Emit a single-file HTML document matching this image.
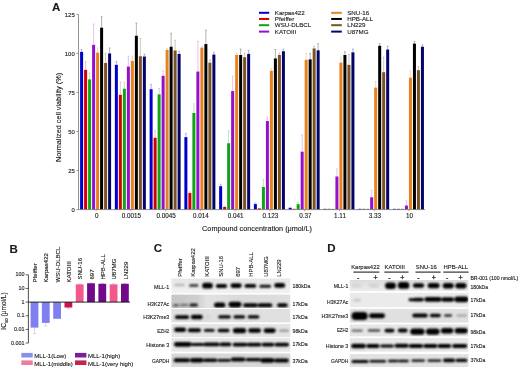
<!DOCTYPE html>
<html><head><meta charset="utf-8"><style>
html,body{margin:0;padding:0;background:#fff;}
body{width:520px;height:368px;overflow:hidden;}
svg{display:block;}
text{font-family:'Liberation Sans', Arial, sans-serif;fill:#1a1a1a;stroke:#1a1a1a;stroke-width:0.12px;}
</style></head><body>
<svg width="520" height="368" viewBox="0 0 520 368">
<rect width="520" height="368" fill="#fff"/>
<text x="52" y="11.4" font-size="11.5" font-weight="bold">A</text>
<line x1="81.60" y1="49.54" x2="81.60" y2="51.88" stroke="#9090f0" stroke-width="0.7"/>
<line x1="80.70" y1="49.54" x2="82.50" y2="49.54" stroke="#9090f0" stroke-width="0.7"/>
<rect x="80.10" y="51.88" width="3.0" height="157.72" fill="#0000cc"/>
<line x1="85.60" y1="61.56" x2="85.60" y2="69.84" stroke="#f0a0a0" stroke-width="0.7"/>
<line x1="84.70" y1="61.56" x2="86.50" y2="61.56" stroke="#f0a0a0" stroke-width="0.7"/>
<rect x="84.10" y="69.84" width="3.0" height="139.76" fill="#d40000"/>
<line x1="89.60" y1="72.96" x2="89.60" y2="79.36" stroke="#a0d8a0" stroke-width="0.7"/>
<line x1="88.70" y1="72.96" x2="90.50" y2="72.96" stroke="#a0d8a0" stroke-width="0.7"/>
<rect x="88.10" y="79.36" width="3.0" height="130.24" fill="#10a414"/>
<line x1="93.60" y1="24.08" x2="93.60" y2="44.85" stroke="#e0a8e8" stroke-width="0.7"/>
<line x1="92.70" y1="24.08" x2="94.50" y2="24.08" stroke="#e0a8e8" stroke-width="0.7"/>
<rect x="92.10" y="44.85" width="3.0" height="164.75" fill="#9410cc"/>
<line x1="97.60" y1="47.97" x2="97.60" y2="52.66" stroke="#f4c898" stroke-width="0.7"/>
<line x1="96.70" y1="47.97" x2="98.50" y2="47.97" stroke="#f4c898" stroke-width="0.7"/>
<rect x="96.10" y="52.66" width="3.0" height="156.94" fill="#e8821e"/>
<line x1="101.60" y1="16.74" x2="101.60" y2="27.67" stroke="#909090" stroke-width="0.7"/>
<line x1="100.70" y1="16.74" x2="102.50" y2="16.74" stroke="#909090" stroke-width="0.7"/>
<rect x="100.10" y="27.67" width="3.0" height="181.93" fill="#000000"/>
<line x1="105.60" y1="53.44" x2="105.60" y2="62.97" stroke="#c8b090" stroke-width="0.7"/>
<line x1="104.70" y1="53.44" x2="106.50" y2="53.44" stroke="#c8b090" stroke-width="0.7"/>
<rect x="104.10" y="62.97" width="3.0" height="146.63" fill="#7a5224"/>
<line x1="109.60" y1="47.97" x2="109.60" y2="53.44" stroke="#9090c0" stroke-width="0.7"/>
<line x1="108.70" y1="47.97" x2="110.50" y2="47.97" stroke="#9090c0" stroke-width="0.7"/>
<rect x="108.10" y="53.44" width="3.0" height="156.16" fill="#04046a"/>
<line x1="96.10" y1="209.6" x2="96.10" y2="211.2" stroke="#777" stroke-width="0.6"/>
<text x="96.70" y="218.4" font-size="6.3" text-anchor="middle">0</text>
<line x1="116.36" y1="61.56" x2="116.36" y2="64.84" stroke="#9090f0" stroke-width="0.7"/>
<line x1="115.46" y1="61.56" x2="117.26" y2="61.56" stroke="#9090f0" stroke-width="0.7"/>
<rect x="114.86" y="64.84" width="3.0" height="144.76" fill="#0000cc"/>
<line x1="120.36" y1="82.02" x2="120.36" y2="94.82" stroke="#f0a0a0" stroke-width="0.7"/>
<line x1="119.46" y1="82.02" x2="121.26" y2="82.02" stroke="#f0a0a0" stroke-width="0.7"/>
<rect x="118.86" y="94.82" width="3.0" height="114.78" fill="#d40000"/>
<line x1="124.36" y1="82.02" x2="124.36" y2="88.73" stroke="#a0d8a0" stroke-width="0.7"/>
<line x1="123.46" y1="82.02" x2="125.26" y2="82.02" stroke="#a0d8a0" stroke-width="0.7"/>
<rect x="122.86" y="88.73" width="3.0" height="120.87" fill="#10a414"/>
<line x1="128.36" y1="56.25" x2="128.36" y2="66.56" stroke="#e0a8e8" stroke-width="0.7"/>
<line x1="127.46" y1="56.25" x2="129.26" y2="56.25" stroke="#e0a8e8" stroke-width="0.7"/>
<rect x="126.86" y="66.56" width="3.0" height="143.04" fill="#9410cc"/>
<line x1="132.36" y1="56.25" x2="132.36" y2="60.94" stroke="#f4c898" stroke-width="0.7"/>
<line x1="131.46" y1="56.25" x2="133.26" y2="56.25" stroke="#f4c898" stroke-width="0.7"/>
<rect x="130.86" y="60.94" width="3.0" height="148.66" fill="#e8821e"/>
<line x1="136.36" y1="22.99" x2="136.36" y2="35.79" stroke="#909090" stroke-width="0.7"/>
<line x1="135.46" y1="22.99" x2="137.26" y2="22.99" stroke="#909090" stroke-width="0.7"/>
<rect x="134.86" y="35.79" width="3.0" height="173.81" fill="#000000"/>
<line x1="140.36" y1="38.45" x2="140.36" y2="56.25" stroke="#c8b090" stroke-width="0.7"/>
<line x1="139.46" y1="38.45" x2="141.26" y2="38.45" stroke="#c8b090" stroke-width="0.7"/>
<rect x="138.86" y="56.25" width="3.0" height="153.35" fill="#7a5224"/>
<line x1="144.36" y1="54.22" x2="144.36" y2="56.56" stroke="#9090c0" stroke-width="0.7"/>
<line x1="143.46" y1="54.22" x2="145.26" y2="54.22" stroke="#9090c0" stroke-width="0.7"/>
<rect x="142.86" y="56.56" width="3.0" height="153.04" fill="#04046a"/>
<line x1="130.86" y1="209.6" x2="130.86" y2="211.2" stroke="#777" stroke-width="0.6"/>
<text x="131.46" y="218.4" font-size="6.3" text-anchor="middle">0.0015</text>
<line x1="151.12" y1="84.36" x2="151.12" y2="89.20" stroke="#9090f0" stroke-width="0.7"/>
<line x1="150.22" y1="84.36" x2="152.02" y2="84.36" stroke="#9090f0" stroke-width="0.7"/>
<rect x="149.62" y="89.20" width="3.0" height="120.40" fill="#0000cc"/>
<line x1="155.12" y1="130.74" x2="155.12" y2="137.77" stroke="#f0a0a0" stroke-width="0.7"/>
<line x1="154.22" y1="130.74" x2="156.02" y2="130.74" stroke="#f0a0a0" stroke-width="0.7"/>
<rect x="153.62" y="137.77" width="3.0" height="71.83" fill="#d40000"/>
<line x1="159.12" y1="88.42" x2="159.12" y2="94.35" stroke="#a0d8a0" stroke-width="0.7"/>
<line x1="158.22" y1="88.42" x2="160.02" y2="88.42" stroke="#a0d8a0" stroke-width="0.7"/>
<rect x="157.62" y="94.35" width="3.0" height="115.25" fill="#10a414"/>
<line x1="163.12" y1="70.77" x2="163.12" y2="75.77" stroke="#e0a8e8" stroke-width="0.7"/>
<line x1="162.22" y1="70.77" x2="164.02" y2="70.77" stroke="#e0a8e8" stroke-width="0.7"/>
<rect x="161.62" y="75.77" width="3.0" height="133.83" fill="#9410cc"/>
<line x1="167.12" y1="48.44" x2="167.12" y2="49.85" stroke="#f4c898" stroke-width="0.7"/>
<line x1="166.22" y1="48.44" x2="168.02" y2="48.44" stroke="#f4c898" stroke-width="0.7"/>
<rect x="165.62" y="49.85" width="3.0" height="159.75" fill="#e8821e"/>
<line x1="171.12" y1="33.30" x2="171.12" y2="46.73" stroke="#909090" stroke-width="0.7"/>
<line x1="170.22" y1="33.30" x2="172.02" y2="33.30" stroke="#909090" stroke-width="0.7"/>
<rect x="169.62" y="46.73" width="3.0" height="162.87" fill="#000000"/>
<line x1="175.12" y1="40.32" x2="175.12" y2="50.47" stroke="#c8b090" stroke-width="0.7"/>
<line x1="174.22" y1="40.32" x2="176.02" y2="40.32" stroke="#c8b090" stroke-width="0.7"/>
<rect x="173.62" y="50.47" width="3.0" height="159.13" fill="#7a5224"/>
<line x1="179.12" y1="51.25" x2="179.12" y2="53.91" stroke="#9090c0" stroke-width="0.7"/>
<line x1="178.22" y1="51.25" x2="180.02" y2="51.25" stroke="#9090c0" stroke-width="0.7"/>
<rect x="177.62" y="53.91" width="3.0" height="155.69" fill="#04046a"/>
<line x1="165.62" y1="209.6" x2="165.62" y2="211.2" stroke="#777" stroke-width="0.6"/>
<text x="166.22" y="218.4" font-size="6.3" text-anchor="middle">0.0045</text>
<line x1="185.88" y1="133.55" x2="185.88" y2="137.14" stroke="#9090f0" stroke-width="0.7"/>
<line x1="184.98" y1="133.55" x2="186.78" y2="133.55" stroke="#9090f0" stroke-width="0.7"/>
<rect x="184.38" y="137.14" width="3.0" height="72.46" fill="#0000cc"/>
<line x1="189.88" y1="191.80" x2="189.88" y2="193.05" stroke="#f0a0a0" stroke-width="0.7"/>
<line x1="188.98" y1="191.80" x2="190.78" y2="191.80" stroke="#f0a0a0" stroke-width="0.7"/>
<rect x="188.38" y="193.05" width="3.0" height="16.55" fill="#d40000"/>
<line x1="193.88" y1="103.88" x2="193.88" y2="112.94" stroke="#a0d8a0" stroke-width="0.7"/>
<line x1="192.98" y1="103.88" x2="194.78" y2="103.88" stroke="#a0d8a0" stroke-width="0.7"/>
<rect x="192.38" y="112.94" width="3.0" height="96.66" fill="#10a414"/>
<line x1="197.88" y1="41.42" x2="197.88" y2="71.55" stroke="#e0a8e8" stroke-width="0.7"/>
<line x1="196.98" y1="41.42" x2="198.78" y2="41.42" stroke="#e0a8e8" stroke-width="0.7"/>
<rect x="196.38" y="71.55" width="3.0" height="138.05" fill="#9410cc"/>
<line x1="201.88" y1="46.41" x2="201.88" y2="47.66" stroke="#f4c898" stroke-width="0.7"/>
<line x1="200.98" y1="46.41" x2="202.78" y2="46.41" stroke="#f4c898" stroke-width="0.7"/>
<rect x="200.38" y="47.66" width="3.0" height="161.94" fill="#e8821e"/>
<line x1="205.88" y1="30.02" x2="205.88" y2="44.07" stroke="#909090" stroke-width="0.7"/>
<line x1="204.98" y1="30.02" x2="206.78" y2="30.02" stroke="#909090" stroke-width="0.7"/>
<rect x="204.38" y="44.07" width="3.0" height="165.53" fill="#000000"/>
<line x1="209.88" y1="59.84" x2="209.88" y2="62.65" stroke="#c8b090" stroke-width="0.7"/>
<line x1="208.98" y1="59.84" x2="210.78" y2="59.84" stroke="#c8b090" stroke-width="0.7"/>
<rect x="208.38" y="62.65" width="3.0" height="146.95" fill="#7a5224"/>
<line x1="213.88" y1="52.35" x2="213.88" y2="54.53" stroke="#9090c0" stroke-width="0.7"/>
<line x1="212.98" y1="52.35" x2="214.78" y2="52.35" stroke="#9090c0" stroke-width="0.7"/>
<rect x="212.38" y="54.53" width="3.0" height="155.07" fill="#04046a"/>
<line x1="200.38" y1="209.6" x2="200.38" y2="211.2" stroke="#777" stroke-width="0.6"/>
<text x="200.98" y="218.4" font-size="6.3" text-anchor="middle">0.014</text>
<line x1="220.64" y1="184.30" x2="220.64" y2="186.18" stroke="#9090f0" stroke-width="0.7"/>
<line x1="219.74" y1="184.30" x2="221.54" y2="184.30" stroke="#9090f0" stroke-width="0.7"/>
<rect x="219.14" y="186.18" width="3.0" height="23.42" fill="#0000cc"/>
<line x1="224.64" y1="206.16" x2="224.64" y2="206.95" stroke="#f0a0a0" stroke-width="0.7"/>
<line x1="223.74" y1="206.16" x2="225.54" y2="206.16" stroke="#f0a0a0" stroke-width="0.7"/>
<rect x="223.14" y="206.95" width="3.0" height="2.65" fill="#d40000"/>
<line x1="228.64" y1="130.74" x2="228.64" y2="143.23" stroke="#a0d8a0" stroke-width="0.7"/>
<line x1="227.74" y1="130.74" x2="229.54" y2="130.74" stroke="#a0d8a0" stroke-width="0.7"/>
<rect x="227.14" y="143.23" width="3.0" height="66.37" fill="#10a414"/>
<line x1="232.64" y1="76.24" x2="232.64" y2="91.07" stroke="#e0a8e8" stroke-width="0.7"/>
<line x1="231.74" y1="76.24" x2="233.54" y2="76.24" stroke="#e0a8e8" stroke-width="0.7"/>
<rect x="231.14" y="91.07" width="3.0" height="118.53" fill="#9410cc"/>
<line x1="236.64" y1="53.44" x2="236.64" y2="55.00" stroke="#f4c898" stroke-width="0.7"/>
<line x1="235.74" y1="53.44" x2="237.54" y2="53.44" stroke="#f4c898" stroke-width="0.7"/>
<rect x="235.14" y="55.00" width="3.0" height="154.60" fill="#e8821e"/>
<line x1="240.64" y1="49.07" x2="240.64" y2="55.00" stroke="#909090" stroke-width="0.7"/>
<line x1="239.74" y1="49.07" x2="241.54" y2="49.07" stroke="#909090" stroke-width="0.7"/>
<rect x="239.14" y="55.00" width="3.0" height="154.60" fill="#000000"/>
<line x1="244.64" y1="53.13" x2="244.64" y2="57.19" stroke="#c8b090" stroke-width="0.7"/>
<line x1="243.74" y1="53.13" x2="245.54" y2="53.13" stroke="#c8b090" stroke-width="0.7"/>
<rect x="243.14" y="57.19" width="3.0" height="152.41" fill="#7a5224"/>
<line x1="248.64" y1="50.32" x2="248.64" y2="53.91" stroke="#9090c0" stroke-width="0.7"/>
<line x1="247.74" y1="50.32" x2="249.54" y2="50.32" stroke="#9090c0" stroke-width="0.7"/>
<rect x="247.14" y="53.91" width="3.0" height="155.69" fill="#04046a"/>
<line x1="235.14" y1="209.6" x2="235.14" y2="211.2" stroke="#777" stroke-width="0.6"/>
<text x="235.74" y="218.4" font-size="6.3" text-anchor="middle">0.041</text>
<line x1="255.40" y1="203.04" x2="255.40" y2="204.13" stroke="#9090f0" stroke-width="0.7"/>
<line x1="254.50" y1="203.04" x2="256.30" y2="203.04" stroke="#9090f0" stroke-width="0.7"/>
<rect x="253.90" y="204.13" width="3.0" height="5.47" fill="#0000cc"/>
<rect x="257.90" y="208.35" width="3.0" height="1.25" fill="#d40000"/>
<line x1="263.40" y1="179.30" x2="263.40" y2="186.96" stroke="#a0d8a0" stroke-width="0.7"/>
<line x1="262.50" y1="179.30" x2="264.30" y2="179.30" stroke="#a0d8a0" stroke-width="0.7"/>
<rect x="261.90" y="186.96" width="3.0" height="22.64" fill="#10a414"/>
<line x1="267.40" y1="117.00" x2="267.40" y2="121.06" stroke="#e0a8e8" stroke-width="0.7"/>
<line x1="266.50" y1="117.00" x2="268.30" y2="117.00" stroke="#e0a8e8" stroke-width="0.7"/>
<rect x="265.90" y="121.06" width="3.0" height="88.54" fill="#9410cc"/>
<line x1="271.40" y1="68.59" x2="271.40" y2="70.77" stroke="#f4c898" stroke-width="0.7"/>
<line x1="270.50" y1="68.59" x2="272.30" y2="68.59" stroke="#f4c898" stroke-width="0.7"/>
<rect x="269.90" y="70.77" width="3.0" height="138.83" fill="#e8821e"/>
<line x1="275.40" y1="49.54" x2="275.40" y2="58.44" stroke="#909090" stroke-width="0.7"/>
<line x1="274.50" y1="49.54" x2="276.30" y2="49.54" stroke="#909090" stroke-width="0.7"/>
<rect x="273.90" y="58.44" width="3.0" height="151.16" fill="#000000"/>
<line x1="279.40" y1="53.13" x2="279.40" y2="55.00" stroke="#c8b090" stroke-width="0.7"/>
<line x1="278.50" y1="53.13" x2="280.30" y2="53.13" stroke="#c8b090" stroke-width="0.7"/>
<rect x="277.90" y="55.00" width="3.0" height="154.60" fill="#7a5224"/>
<line x1="283.40" y1="49.07" x2="283.40" y2="51.25" stroke="#9090c0" stroke-width="0.7"/>
<line x1="282.50" y1="49.07" x2="284.30" y2="49.07" stroke="#9090c0" stroke-width="0.7"/>
<rect x="281.90" y="51.25" width="3.0" height="158.35" fill="#04046a"/>
<line x1="269.90" y1="209.6" x2="269.90" y2="211.2" stroke="#777" stroke-width="0.6"/>
<text x="270.50" y="218.4" font-size="6.3" text-anchor="middle">0.123</text>
<rect x="288.66" y="207.73" width="3.0" height="1.87" fill="#0000cc"/>
<rect x="292.66" y="208.82" width="3.0" height="0.78" fill="#d40000"/>
<line x1="298.16" y1="202.26" x2="298.16" y2="204.13" stroke="#a0d8a0" stroke-width="0.7"/>
<line x1="297.26" y1="202.26" x2="299.06" y2="202.26" stroke="#a0d8a0" stroke-width="0.7"/>
<rect x="296.66" y="204.13" width="3.0" height="5.47" fill="#10a414"/>
<line x1="302.16" y1="134.96" x2="302.16" y2="151.66" stroke="#e0a8e8" stroke-width="0.7"/>
<line x1="301.26" y1="134.96" x2="303.06" y2="134.96" stroke="#e0a8e8" stroke-width="0.7"/>
<rect x="300.66" y="151.66" width="3.0" height="57.94" fill="#9410cc"/>
<line x1="306.16" y1="53.13" x2="306.16" y2="59.84" stroke="#f4c898" stroke-width="0.7"/>
<line x1="305.26" y1="53.13" x2="307.06" y2="53.13" stroke="#f4c898" stroke-width="0.7"/>
<rect x="304.66" y="59.84" width="3.0" height="149.76" fill="#e8821e"/>
<line x1="310.16" y1="53.44" x2="310.16" y2="59.37" stroke="#909090" stroke-width="0.7"/>
<line x1="309.26" y1="53.44" x2="311.06" y2="53.44" stroke="#909090" stroke-width="0.7"/>
<rect x="308.66" y="59.37" width="3.0" height="150.23" fill="#000000"/>
<line x1="314.16" y1="46.26" x2="314.16" y2="48.44" stroke="#c8b090" stroke-width="0.7"/>
<line x1="313.26" y1="46.26" x2="315.06" y2="46.26" stroke="#c8b090" stroke-width="0.7"/>
<rect x="312.66" y="48.44" width="3.0" height="161.16" fill="#7a5224"/>
<line x1="318.16" y1="43.60" x2="318.16" y2="50.32" stroke="#9090c0" stroke-width="0.7"/>
<line x1="317.26" y1="43.60" x2="319.06" y2="43.60" stroke="#9090c0" stroke-width="0.7"/>
<rect x="316.66" y="50.32" width="3.0" height="159.28" fill="#04046a"/>
<line x1="304.66" y1="209.6" x2="304.66" y2="211.2" stroke="#777" stroke-width="0.6"/>
<text x="305.26" y="218.4" font-size="6.3" text-anchor="middle">0.37</text>
<rect x="323.42" y="208.82" width="3.0" height="0.78" fill="#0000cc"/>
<rect x="327.42" y="208.82" width="3.0" height="0.78" fill="#d40000"/>
<rect x="331.42" y="208.82" width="3.0" height="0.78" fill="#10a414"/>
<line x1="336.92" y1="169.00" x2="336.92" y2="176.49" stroke="#e0a8e8" stroke-width="0.7"/>
<line x1="336.02" y1="169.00" x2="337.82" y2="169.00" stroke="#e0a8e8" stroke-width="0.7"/>
<rect x="335.42" y="176.49" width="3.0" height="33.11" fill="#9410cc"/>
<line x1="340.92" y1="57.19" x2="340.92" y2="62.65" stroke="#f4c898" stroke-width="0.7"/>
<line x1="340.02" y1="57.19" x2="341.82" y2="57.19" stroke="#f4c898" stroke-width="0.7"/>
<rect x="339.42" y="62.65" width="3.0" height="146.95" fill="#e8821e"/>
<line x1="344.92" y1="51.72" x2="344.92" y2="55.00" stroke="#909090" stroke-width="0.7"/>
<line x1="344.02" y1="51.72" x2="345.82" y2="51.72" stroke="#909090" stroke-width="0.7"/>
<rect x="343.42" y="55.00" width="3.0" height="154.60" fill="#000000"/>
<line x1="348.92" y1="54.53" x2="348.92" y2="64.84" stroke="#c8b090" stroke-width="0.7"/>
<line x1="348.02" y1="54.53" x2="349.82" y2="54.53" stroke="#c8b090" stroke-width="0.7"/>
<rect x="347.42" y="64.84" width="3.0" height="144.76" fill="#7a5224"/>
<line x1="352.92" y1="49.07" x2="352.92" y2="52.35" stroke="#9090c0" stroke-width="0.7"/>
<line x1="352.02" y1="49.07" x2="353.82" y2="49.07" stroke="#9090c0" stroke-width="0.7"/>
<rect x="351.42" y="52.35" width="3.0" height="157.25" fill="#04046a"/>
<line x1="339.42" y1="209.6" x2="339.42" y2="211.2" stroke="#777" stroke-width="0.6"/>
<text x="340.02" y="218.4" font-size="6.3" text-anchor="middle">1.11</text>
<rect x="358.18" y="208.82" width="3.0" height="0.78" fill="#0000cc"/>
<rect x="362.18" y="208.82" width="3.0" height="0.78" fill="#d40000"/>
<rect x="366.18" y="208.82" width="3.0" height="0.78" fill="#10a414"/>
<line x1="371.68" y1="190.39" x2="371.68" y2="197.26" stroke="#e0a8e8" stroke-width="0.7"/>
<line x1="370.78" y1="190.39" x2="372.58" y2="190.39" stroke="#e0a8e8" stroke-width="0.7"/>
<rect x="370.18" y="197.26" width="3.0" height="12.34" fill="#9410cc"/>
<line x1="375.68" y1="81.55" x2="375.68" y2="87.64" stroke="#f4c898" stroke-width="0.7"/>
<line x1="374.78" y1="81.55" x2="376.58" y2="81.55" stroke="#f4c898" stroke-width="0.7"/>
<rect x="374.18" y="87.64" width="3.0" height="121.96" fill="#e8821e"/>
<line x1="379.68" y1="43.60" x2="379.68" y2="45.79" stroke="#909090" stroke-width="0.7"/>
<line x1="378.78" y1="43.60" x2="380.58" y2="43.60" stroke="#909090" stroke-width="0.7"/>
<rect x="378.18" y="45.79" width="3.0" height="163.81" fill="#000000"/>
<line x1="383.68" y1="57.19" x2="383.68" y2="72.18" stroke="#c8b090" stroke-width="0.7"/>
<line x1="382.78" y1="57.19" x2="384.58" y2="57.19" stroke="#c8b090" stroke-width="0.7"/>
<rect x="382.18" y="72.18" width="3.0" height="137.42" fill="#7a5224"/>
<line x1="387.68" y1="46.26" x2="387.68" y2="49.54" stroke="#9090c0" stroke-width="0.7"/>
<line x1="386.78" y1="46.26" x2="388.58" y2="46.26" stroke="#9090c0" stroke-width="0.7"/>
<rect x="386.18" y="49.54" width="3.0" height="160.06" fill="#04046a"/>
<line x1="374.18" y1="209.6" x2="374.18" y2="211.2" stroke="#777" stroke-width="0.6"/>
<text x="374.78" y="218.4" font-size="6.3" text-anchor="middle">3.33</text>
<rect x="392.94" y="208.82" width="3.0" height="0.78" fill="#0000cc"/>
<rect x="396.94" y="208.82" width="3.0" height="0.78" fill="#d40000"/>
<rect x="400.94" y="208.82" width="3.0" height="0.78" fill="#10a414"/>
<line x1="406.44" y1="200.86" x2="406.44" y2="205.54" stroke="#e0a8e8" stroke-width="0.7"/>
<line x1="405.54" y1="200.86" x2="407.34" y2="200.86" stroke="#e0a8e8" stroke-width="0.7"/>
<rect x="404.94" y="205.54" width="3.0" height="4.06" fill="#9410cc"/>
<line x1="410.44" y1="70.77" x2="410.44" y2="77.64" stroke="#f4c898" stroke-width="0.7"/>
<line x1="409.54" y1="70.77" x2="411.34" y2="70.77" stroke="#f4c898" stroke-width="0.7"/>
<rect x="408.94" y="77.64" width="3.0" height="131.96" fill="#e8821e"/>
<line x1="414.44" y1="41.42" x2="414.44" y2="43.60" stroke="#909090" stroke-width="0.7"/>
<line x1="413.54" y1="41.42" x2="415.34" y2="41.42" stroke="#909090" stroke-width="0.7"/>
<rect x="412.94" y="43.60" width="3.0" height="166.00" fill="#000000"/>
<line x1="418.44" y1="66.71" x2="418.44" y2="70.15" stroke="#c8b090" stroke-width="0.7"/>
<line x1="417.54" y1="66.71" x2="419.34" y2="66.71" stroke="#c8b090" stroke-width="0.7"/>
<rect x="416.94" y="70.15" width="3.0" height="139.45" fill="#7a5224"/>
<line x1="422.44" y1="44.85" x2="422.44" y2="46.73" stroke="#9090c0" stroke-width="0.7"/>
<line x1="421.54" y1="44.85" x2="423.34" y2="44.85" stroke="#9090c0" stroke-width="0.7"/>
<rect x="420.94" y="46.73" width="3.0" height="162.87" fill="#04046a"/>
<line x1="408.94" y1="209.6" x2="408.94" y2="211.2" stroke="#777" stroke-width="0.6"/>
<text x="409.54" y="218.4" font-size="6.3" text-anchor="middle">10</text>
<line x1="78.5" y1="14.40" x2="78.5" y2="209.6" stroke="#777" stroke-width="0.8"/>
<line x1="78.5" y1="209.6" x2="425" y2="209.6" stroke="#777" stroke-width="0.8"/>
<line x1="76.3" y1="209.60" x2="78.5" y2="209.60" stroke="#777" stroke-width="0.7"/>
<text x="74.7" y="211.70" font-size="5.9" text-anchor="end">0</text>
<line x1="76.3" y1="170.56" x2="78.5" y2="170.56" stroke="#777" stroke-width="0.7"/>
<text x="74.7" y="172.66" font-size="5.9" text-anchor="end">25</text>
<line x1="76.3" y1="131.52" x2="78.5" y2="131.52" stroke="#777" stroke-width="0.7"/>
<text x="74.7" y="133.62" font-size="5.9" text-anchor="end">50</text>
<line x1="76.3" y1="92.48" x2="78.5" y2="92.48" stroke="#777" stroke-width="0.7"/>
<text x="74.7" y="94.58" font-size="5.9" text-anchor="end">75</text>
<line x1="76.3" y1="53.44" x2="78.5" y2="53.44" stroke="#777" stroke-width="0.7"/>
<text x="74.7" y="55.54" font-size="5.9" text-anchor="end">100</text>
<line x1="76.3" y1="14.40" x2="78.5" y2="14.40" stroke="#777" stroke-width="0.7"/>
<text x="74.7" y="16.50" font-size="5.9" text-anchor="end">125</text>
<text x="257" y="231.1" font-size="7.25" text-anchor="middle">Compound concentration (μmol/L)</text>
<text transform="translate(60.5,117.5) rotate(-90)" font-size="7.3" text-anchor="middle">Normalized cell viability (%)</text>
<rect x="259" y="11.80" width="10.2" height="2.0" fill="#0000cc"/>
<text x="274.8" y="15.00" font-size="6.2">Karpas422</text>
<rect x="331.2" y="11.80" width="10.6" height="2.0" fill="#e8821e"/>
<text x="347.2" y="15.00" font-size="6.2">SNU-16</text>
<rect x="259" y="17.95" width="10.2" height="2.0" fill="#d40000"/>
<text x="274.8" y="21.15" font-size="6.2">Pfeiffer</text>
<rect x="331.2" y="17.95" width="10.6" height="2.0" fill="#000000"/>
<text x="347.2" y="21.15" font-size="6.2">HPB-ALL</text>
<rect x="259" y="24.20" width="10.2" height="2.0" fill="#10a414"/>
<text x="274.8" y="27.40" font-size="6.2">WSU-DLBCL</text>
<rect x="331.2" y="24.20" width="10.6" height="2.0" fill="#6e5a22"/>
<text x="347.2" y="27.40" font-size="6.2">LN229</text>
<rect x="259" y="30.60" width="10.2" height="2.0" fill="#9410cc"/>
<text x="274.8" y="33.80" font-size="6.2">KATOIII</text>
<rect x="331.2" y="30.60" width="10.6" height="2.0" fill="#04046a"/>
<text x="347.2" y="33.80" font-size="6.2">U87MG</text>
<text x="9.6" y="252.7" font-size="11.5" font-weight="bold">B</text>
<line x1="33.00" y1="333.51" x2="36.00" y2="333.51" stroke="#ccc" stroke-width="0.8"/>
<line x1="34.50" y1="333.51" x2="34.50" y2="327.62" stroke="#ccc" stroke-width="0.7"/>
<rect x="30.60" y="302.10" width="7.8" height="25.52" fill="#7f7ff0"/>
<text transform="translate(37.10,282.5) rotate(-90)" font-size="6.1">Pfeiffer</text>
<line x1="44.30" y1="325.92" x2="47.30" y2="325.92" stroke="#ccc" stroke-width="0.8"/>
<line x1="45.80" y1="325.92" x2="45.80" y2="322.89" stroke="#ccc" stroke-width="0.7"/>
<rect x="41.90" y="302.10" width="7.8" height="20.79" fill="#7f7ff0"/>
<text transform="translate(48.40,282.5) rotate(-90)" font-size="6.1">Karpas422</text>
<rect x="53.20" y="302.10" width="7.8" height="16.68" fill="#7f7ff0"/>
<text transform="translate(59.70,282.5) rotate(-90)" font-size="6.1">WSU-DLBCL</text>
<line x1="66.90" y1="308.67" x2="69.90" y2="308.67" stroke="#ccc" stroke-width="0.8"/>
<line x1="68.40" y1="308.67" x2="68.40" y2="307.53" stroke="#ccc" stroke-width="0.7"/>
<rect x="64.50" y="302.10" width="7.8" height="5.43" fill="#cc1050"/>
<text transform="translate(71.00,282.5) rotate(-90)" font-size="6.1">KATOIII</text>
<line x1="78.20" y1="283.78" x2="81.20" y2="283.78" stroke="#ccc" stroke-width="0.8"/>
<line x1="79.70" y1="283.78" x2="79.70" y2="284.34" stroke="#ccc" stroke-width="0.7"/>
<rect x="75.80" y="284.34" width="7.8" height="17.76" fill="#f2588e"/>
<text transform="translate(82.30,279.6) rotate(-90)" font-size="6.1">SNU-16</text>
<line x1="89.50" y1="282.79" x2="92.50" y2="282.79" stroke="#ccc" stroke-width="0.8"/>
<line x1="91.00" y1="282.79" x2="91.00" y2="283.26" stroke="#ccc" stroke-width="0.7"/>
<rect x="87.10" y="283.26" width="7.8" height="18.84" fill="#72088a"/>
<text transform="translate(93.60,279.6) rotate(-90)" font-size="6.1">697</text>
<line x1="100.80" y1="283.26" x2="103.80" y2="283.26" stroke="#ccc" stroke-width="0.8"/>
<line x1="102.30" y1="283.26" x2="102.30" y2="283.78" stroke="#ccc" stroke-width="0.7"/>
<rect x="98.40" y="283.78" width="7.8" height="18.32" fill="#72088a"/>
<text transform="translate(104.90,279.6) rotate(-90)" font-size="6.1">HPB-ALL</text>
<line x1="112.10" y1="283.78" x2="115.10" y2="283.78" stroke="#ccc" stroke-width="0.8"/>
<line x1="113.60" y1="283.78" x2="113.60" y2="284.34" stroke="#ccc" stroke-width="0.7"/>
<rect x="109.70" y="284.34" width="7.8" height="17.76" fill="#f2588e"/>
<text transform="translate(116.20,279.6) rotate(-90)" font-size="6.1">U87MG</text>
<line x1="123.40" y1="283.26" x2="126.40" y2="283.26" stroke="#ccc" stroke-width="0.8"/>
<line x1="124.90" y1="283.26" x2="124.90" y2="283.78" stroke="#ccc" stroke-width="0.7"/>
<rect x="121.00" y="283.78" width="7.8" height="18.32" fill="#72088a"/>
<text transform="translate(127.50,279.6) rotate(-90)" font-size="6.1">LN229</text>
<line x1="28.4" y1="274.80" x2="28.4" y2="343.05" stroke="#222" stroke-width="0.8"/>
<line x1="28.4" y1="302.1" x2="130" y2="302.1" stroke="#111" stroke-width="0.9"/>
<line x1="25.6" y1="274.80" x2="28.4" y2="274.80" stroke="#222" stroke-width="0.7"/>
<text x="24.6" y="276.30" font-size="5.4" text-anchor="end">100</text>
<line x1="25.6" y1="288.45" x2="28.4" y2="288.45" stroke="#222" stroke-width="0.7"/>
<text x="24.6" y="289.95" font-size="5.4" text-anchor="end">10</text>
<line x1="25.6" y1="302.10" x2="28.4" y2="302.10" stroke="#222" stroke-width="0.7"/>
<text x="24.6" y="303.60" font-size="5.4" text-anchor="end">1</text>
<line x1="25.6" y1="315.75" x2="28.4" y2="315.75" stroke="#222" stroke-width="0.7"/>
<text x="24.6" y="317.25" font-size="5.4" text-anchor="end">0.1</text>
<line x1="25.6" y1="329.40" x2="28.4" y2="329.40" stroke="#222" stroke-width="0.7"/>
<text x="24.6" y="330.90" font-size="5.4" text-anchor="end">0.01</text>
<line x1="25.6" y1="343.05" x2="28.4" y2="343.05" stroke="#222" stroke-width="0.7"/>
<text x="24.6" y="344.55" font-size="5.4" text-anchor="end">0.001</text>
<text transform="translate(6,311) rotate(-90)" font-size="6.6" text-anchor="middle">IC<tspan font-size="4.2" dy="1.6">50</tspan><tspan dy="-1.6"> (μmol/L)</tspan></text>
<rect x="21.3" y="352.9" width="11.4" height="4.6" fill="#8890ec"/>
<text x="34.20" y="358.10" font-size="6">MLL-1(Low)</text>
<rect x="21.3" y="360.4" width="11.4" height="4.6" fill="#f27aa2"/>
<text x="34.20" y="365.60" font-size="6">MLL-1(middle)</text>
<rect x="75" y="352.9" width="11.4" height="4.6" fill="#7420a0"/>
<text x="87.90" y="358.10" font-size="6">MLL-1(high)</text>
<rect x="75" y="360.4" width="11.4" height="4.6" fill="#c42450"/>
<text x="87.90" y="365.60" font-size="6">MLL-1(very high)</text>
<defs><filter id="bl" x="-20%" y="-50%" width="140%" height="200%"><feGaussianBlur stdDeviation="0.8"/></filter></defs>
<text x="153.8" y="251.6" font-size="11.5" font-weight="bold">C</text>
<text transform="translate(182.30,276.8) rotate(-90)" font-size="5.9">Pfeiffer</text>
<text transform="translate(195.20,276.8) rotate(-90)" font-size="5.9">Karpas422</text>
<text transform="translate(208.80,276.8) rotate(-90)" font-size="5.9">KATOIII</text>
<text transform="translate(223.40,276.8) rotate(-90)" font-size="5.9">SNU-16</text>
<text transform="translate(239.90,276.8) rotate(-90)" font-size="5.9">697</text>
<text transform="translate(253.20,276.8) rotate(-90)" font-size="5.9">HPB-ALL</text>
<text transform="translate(268.20,276.8) rotate(-90)" font-size="5.9">U87MG</text>
<text transform="translate(280.80,276.8) rotate(-90)" font-size="5.9">LN229</text>
<defs><linearGradient id="gAcC" x1="171.4" x2="290.3" y1="0" y2="0" gradientUnits="userSpaceOnUse"><stop offset="0" stop-color="#c6c6c6"/><stop offset="0.22" stop-color="#cfcfcf"/><stop offset="0.3" stop-color="#e2e2e2"/><stop offset="0.6" stop-color="#dadada"/><stop offset="1" stop-color="#dedede"/></linearGradient><linearGradient id="gMC" x1="0" x2="0" y1="279" y2="293.2" gradientUnits="userSpaceOnUse"><stop offset="0" stop-color="#e6e6e6"/><stop offset="1" stop-color="#f2f2f2"/></linearGradient></defs>
<rect x="171.4" y="278.6" width="118.90" height="14.60" fill="url(#gMC)"/>
<g filter="url(#bl)" clip-path="url(#cc0)">
<rect x="174.15" y="283.78" width="10.70" height="2.44" rx="1.22" fill="#000" fill-opacity="0.22"/>
<rect x="189.05" y="283.90" width="9.50" height="3.00" rx="1.50" fill="#000" fill-opacity="0.7"/>
<rect x="202.15" y="282.80" width="10.70" height="5.80" rx="2.90" fill="#000" fill-opacity="1.0"/>
<rect x="215.85" y="284.11" width="11.30" height="3.78" rx="1.89" fill="#000" fill-opacity="1.0"/>
<rect x="230.45" y="283.20" width="11.30" height="4.79" rx="2.40" fill="#000" fill-opacity="1.0"/>
<rect x="244.55" y="284.01" width="11.70" height="3.78" rx="1.89" fill="#000" fill-opacity="1.0"/>
<rect x="259.35" y="284.70" width="11.70" height="3.00" rx="1.50" fill="#000" fill-opacity="0.95"/>
<rect x="274.20" y="283.06" width="11.00" height="4.68" rx="2.34" fill="#000" fill-opacity="1.0"/>
</g>
<clipPath id="cc0"><rect x="171.4" y="278.6" width="118.90" height="14.60"/></clipPath>
<text x="153.90" y="288.60" font-size="5.6" textLength="15.3" lengthAdjust="spacingAndGlyphs">MLL-1</text>
<text x="292.6" y="287.70" font-size="5.2">180kDa</text>
<rect x="171.4" y="294.6" width="118.90" height="13.40" fill="url(#gAcC)"/>
<g filter="url(#bl)" clip-path="url(#cc1)">
<rect x="173.00" y="303.98" width="6.00" height="2.44" rx="1.22" fill="#000" fill-opacity="0.55"/>
<rect x="180.00" y="303.78" width="8.00" height="2.44" rx="1.22" fill="#000" fill-opacity="0.45"/>
<rect x="189.35" y="303.44" width="8.50" height="3.11" rx="1.56" fill="#000" fill-opacity="0.9"/>
<rect x="214.05" y="302.44" width="11.30" height="5.13" rx="2.56" fill="#000" fill-opacity="1.0"/>
<rect x="228.55" y="301.81" width="12.90" height="5.58" rx="2.79" fill="#000" fill-opacity="1.0"/>
<rect x="243.25" y="303.30" width="14.50" height="4.01" rx="2.00" fill="#000" fill-opacity="1.0"/>
<rect x="257.75" y="303.30" width="14.50" height="4.01" rx="2.00" fill="#000" fill-opacity="1.0"/>
<rect x="277.15" y="303.30" width="10.50" height="4.01" rx="2.00" fill="#000" fill-opacity="1.0"/>
</g>
<clipPath id="cc1"><rect x="171.4" y="294.6" width="118.90" height="13.40"/></clipPath>
<text x="147.40" y="305.50" font-size="5.6" textLength="21.8" lengthAdjust="spacingAndGlyphs">H3K27Ac</text>
<text x="292.6" y="305.90" font-size="5.2">17kDa</text>
<rect x="171.4" y="309.0" width="118.90" height="13.40" fill="#e0e0e0"/>
<g filter="url(#bl)" clip-path="url(#cc2)">
<rect x="174.85" y="315.21" width="14.30" height="3.78" rx="1.89" fill="#000" fill-opacity="1.0"/>
<rect x="190.85" y="314.67" width="11.90" height="4.46" rx="2.23" fill="#000" fill-opacity="1.0"/>
<rect x="205.00" y="316.06" width="5.00" height="1.88" rx="0.94" fill="#000" fill-opacity="0.08"/>
<rect x="218.25" y="315.34" width="12.50" height="3.11" rx="1.56" fill="#000" fill-opacity="1.0"/>
<rect x="233.45" y="315.23" width="11.70" height="3.34" rx="1.67" fill="#000" fill-opacity="1.0"/>
<rect x="247.65" y="315.23" width="11.70" height="3.34" rx="1.67" fill="#000" fill-opacity="1.0"/>
</g>
<clipPath id="cc2"><rect x="171.4" y="309.0" width="118.90" height="13.40"/></clipPath>
<text x="143.20" y="318.80" font-size="5.6" textLength="26.0" lengthAdjust="spacingAndGlyphs">H3K27me3</text>
<text x="292.6" y="318.50" font-size="5.2">17kDa</text>
<rect x="171.4" y="324.1" width="118.90" height="12.90" fill="#e4e4e4"/>
<g filter="url(#bl)" clip-path="url(#cc3)">
<rect x="174.15" y="327.57" width="11.90" height="4.46" rx="2.23" fill="#000" fill-opacity="1.0"/>
<rect x="187.85" y="328.14" width="13.10" height="4.12" rx="2.06" fill="#000" fill-opacity="1.0"/>
<rect x="203.95" y="328.96" width="10.70" height="2.89" rx="1.44" fill="#000" fill-opacity="1.0"/>
<rect x="217.65" y="328.83" width="11.90" height="3.34" rx="1.67" fill="#000" fill-opacity="1.0"/>
<rect x="232.85" y="327.98" width="13.30" height="5.24" rx="2.62" fill="#000" fill-opacity="1.0"/>
<rect x="248.25" y="328.37" width="12.70" height="4.46" rx="2.23" fill="#000" fill-opacity="1.0"/>
<rect x="263.65" y="328.26" width="12.10" height="4.68" rx="2.34" fill="#000" fill-opacity="1.0"/>
<rect x="279.10" y="329.38" width="9.80" height="2.44" rx="1.22" fill="#000" fill-opacity="0.35"/>
</g>
<clipPath id="cc3"><rect x="171.4" y="324.1" width="118.90" height="12.90"/></clipPath>
<text x="157.20" y="332.90" font-size="5.6" textLength="12.0" lengthAdjust="spacingAndGlyphs">EZH2</text>
<text x="292.6" y="332.60" font-size="5.2">98kDa</text>
<rect x="171.4" y="337.9" width="118.90" height="13.70" fill="#e7e7e7"/>
<g filter="url(#bl)" clip-path="url(#cc4)">
<rect x="173.95" y="341.93" width="17.70" height="4.74" rx="2.37" fill="#000" fill-opacity="1.0"/>
<rect x="191.20" y="342.89" width="13.00" height="3.02" rx="1.51" fill="#000" fill-opacity="1.0"/>
<rect x="203.75" y="342.54" width="15.90" height="3.73" rx="1.86" fill="#000" fill-opacity="1.0"/>
<rect x="219.70" y="342.54" width="11.60" height="3.73" rx="1.86" fill="#000" fill-opacity="1.0"/>
<rect x="232.70" y="342.74" width="14.60" height="3.73" rx="1.86" fill="#000" fill-opacity="1.0"/>
<rect x="246.85" y="342.69" width="14.50" height="3.83" rx="1.91" fill="#000" fill-opacity="1.0"/>
<rect x="261.70" y="342.74" width="12.60" height="3.73" rx="1.86" fill="#000" fill-opacity="1.0"/>
<rect x="274.55" y="342.74" width="14.50" height="3.73" rx="1.86" fill="#000" fill-opacity="1.0"/>
</g>
<clipPath id="cc4"><rect x="171.4" y="337.9" width="118.90" height="13.70"/></clipPath>
<text x="146.30" y="347.00" font-size="5.6" textLength="22.9" lengthAdjust="spacingAndGlyphs">Histone 3</text>
<text x="292.6" y="346.10" font-size="5.2">17kDa</text>
<rect x="171.4" y="353.5" width="118.90" height="13.40" fill="#d8d8d8"/>
<g filter="url(#bl)" clip-path="url(#cc5)">
<rect x="173.70" y="358.28" width="16.20" height="4.03" rx="2.02" fill="#000" fill-opacity="1.0"/>
<rect x="190.05" y="357.98" width="13.50" height="4.43" rx="2.22" fill="#000" fill-opacity="1.0"/>
<rect x="203.15" y="358.59" width="14.10" height="3.43" rx="1.71" fill="#000" fill-opacity="1.0"/>
<rect x="217.55" y="358.99" width="13.10" height="2.82" rx="1.41" fill="#000" fill-opacity="1.0"/>
<rect x="230.85" y="357.58" width="14.50" height="4.03" rx="2.02" fill="#000" fill-opacity="1.0"/>
<rect x="245.65" y="357.99" width="15.30" height="3.22" rx="1.61" fill="#000" fill-opacity="1.0"/>
<rect x="260.35" y="358.03" width="13.90" height="4.74" rx="2.37" fill="#000" fill-opacity="1.0"/>
<rect x="274.00" y="358.38" width="14.80" height="4.03" rx="2.02" fill="#000" fill-opacity="1.0"/>
</g>
<clipPath id="cc5"><rect x="171.4" y="353.5" width="118.90" height="13.40"/></clipPath>
<text x="151.90" y="362.90" font-size="5.6" textLength="17.3" lengthAdjust="spacingAndGlyphs">GAPDH</text>
<text x="292.6" y="362.60" font-size="5.2">37kDa</text>
<text x="327.2" y="251.6" font-size="11.5" font-weight="bold">D</text>
<text x="351.20" y="269.3" font-size="5.9">Karpas422</text>
<line x1="353.40" y1="272.1" x2="379.40" y2="272.1" stroke="#222" stroke-width="1.1"/>
<text x="384.60" y="269.3" font-size="5.9">KATOIII</text>
<line x1="384.30" y1="272.1" x2="408.60" y2="272.1" stroke="#222" stroke-width="1.1"/>
<text x="415.80" y="269.3" font-size="5.9">SNU-16</text>
<line x1="415.50" y1="272.1" x2="440.60" y2="272.1" stroke="#222" stroke-width="1.1"/>
<text x="443.60" y="269.3" font-size="5.9">HPB-ALL</text>
<line x1="443.30" y1="272.1" x2="468.60" y2="272.1" stroke="#222" stroke-width="1.1"/>
<text x="358.10" y="279.7" font-size="7" text-anchor="middle" style="stroke-width:0.25px">-</text>
<text x="375.60" y="279.7" font-size="7" text-anchor="middle" style="stroke-width:0.25px">+</text>
<text x="389.40" y="279.7" font-size="7" text-anchor="middle" style="stroke-width:0.25px">-</text>
<text x="402.30" y="279.7" font-size="7" text-anchor="middle" style="stroke-width:0.25px">+</text>
<text x="418.40" y="279.7" font-size="7" text-anchor="middle" style="stroke-width:0.25px">-</text>
<text x="433.80" y="279.7" font-size="7" text-anchor="middle" style="stroke-width:0.25px">+</text>
<text x="447.20" y="279.7" font-size="7" text-anchor="middle" style="stroke-width:0.25px">-</text>
<text x="460.60" y="279.7" font-size="7" text-anchor="middle" style="stroke-width:0.25px">+</text>
<text x="470.4" y="279.8" font-size="5.15">BR-001 (100 nmol/L)</text>
<defs><linearGradient id="gMD" x1="0" x2="0" y1="280" y2="291.1" gradientUnits="userSpaceOnUse"><stop offset="0" stop-color="#dcdcdc"/><stop offset="1" stop-color="#ececec"/></linearGradient></defs>
<rect x="349.8" y="280.0" width="118.60" height="11.10" fill="url(#gMD)"/>
<g filter="url(#bl)" clip-path="url(#dd0)">
<rect x="351.50" y="283.92" width="10.00" height="3.56" rx="1.78" fill="#000" fill-opacity="0.07"/>
<rect x="369.00" y="283.92" width="10.00" height="3.56" rx="1.78" fill="#000" fill-opacity="0.09"/>
<rect x="385.10" y="282.46" width="10.80" height="6.47" rx="3.24" fill="#000" fill-opacity="1.0"/>
<rect x="397.80" y="281.94" width="11.60" height="6.92" rx="3.46" fill="#000" fill-opacity="1.0"/>
<rect x="412.90" y="283.17" width="11.20" height="4.46" rx="2.23" fill="#000" fill-opacity="1.0"/>
<rect x="427.60" y="282.92" width="12.00" height="5.35" rx="2.68" fill="#000" fill-opacity="1.0"/>
<rect x="442.70" y="283.01" width="11.00" height="5.58" rx="2.79" fill="#000" fill-opacity="1.0"/>
<rect x="455.30" y="283.01" width="11.20" height="5.58" rx="2.79" fill="#000" fill-opacity="1.0"/>
</g>
<clipPath id="dd0"><rect x="349.8" y="280.0" width="118.60" height="11.10"/></clipPath>
<text x="333.80" y="287.70" font-size="5.6" textLength="14.5" lengthAdjust="spacingAndGlyphs">MLL-1</text>
<text x="470.5" y="289.20" font-size="5.1">180kDa</text>
<rect x="349.8" y="292.8" width="118.60" height="14.40" fill="#ebebeb"/>
<g filter="url(#bl)" clip-path="url(#dd1)">
<rect x="353.00" y="298.87" width="8.00" height="2.66" rx="1.33" fill="#000" fill-opacity="0.15"/>
<rect x="460.50" y="299.62" width="3.00" height="1.77" rx="0.88" fill="#000" fill-opacity="0.2"/>
<rect x="408.50" y="298.36" width="8.00" height="2.89" rx="1.44" fill="#000" fill-opacity="1.0"/>
<rect x="413.25" y="297.71" width="10.50" height="3.78" rx="1.89" fill="#000" fill-opacity="1.0"/>
<rect x="424.40" y="296.95" width="17.20" height="4.90" rx="2.45" fill="#000" fill-opacity="1.0"/>
<rect x="441.40" y="297.37" width="12.60" height="4.46" rx="2.23" fill="#000" fill-opacity="1.0"/>
<rect x="454.40" y="296.61" width="14.00" height="5.58" rx="2.79" fill="#000" fill-opacity="1.0"/>
</g>
<clipPath id="dd1"><rect x="349.8" y="292.8" width="118.60" height="14.40"/></clipPath>
<text x="327.00" y="303.70" font-size="5.6" textLength="21.3" lengthAdjust="spacingAndGlyphs">H3K27Ac</text>
<text x="470.5" y="301.70" font-size="5.1">17kDa</text>
<rect x="349.8" y="308.9" width="118.60" height="13.70" fill="#e0e0e0"/>
<g filter="url(#bl)" clip-path="url(#dd2)">
<rect x="351.50" y="312.09" width="16.20" height="7.82" rx="3.91" fill="#000" fill-opacity="1.0"/>
<rect x="369.00" y="313.35" width="16.00" height="4.90" rx="2.45" fill="#000" fill-opacity="1.0"/>
<rect x="412.25" y="313.38" width="15.50" height="4.23" rx="2.12" fill="#000" fill-opacity="1.0"/>
<rect x="429.80" y="313.72" width="11.00" height="3.56" rx="1.78" fill="#000" fill-opacity="1.0"/>
<rect x="444.10" y="314.39" width="8.00" height="2.22" rx="1.11" fill="#000" fill-opacity="1.0"/>
<rect x="456.55" y="314.62" width="10.50" height="1.77" rx="0.88" fill="#000" fill-opacity="0.3"/>
</g>
<clipPath id="dd2"><rect x="349.8" y="308.9" width="118.60" height="13.70"/></clipPath>
<text x="321.50" y="318.20" font-size="5.6" textLength="26.8" lengthAdjust="spacingAndGlyphs">H3K27me3</text>
<text x="470.5" y="317.10" font-size="5.1">17kDa</text>
<rect x="349.8" y="324.4" width="118.60" height="12.00" fill="#e6e6e6"/>
<g filter="url(#bl)" clip-path="url(#dd3)">
<rect x="351.55" y="329.54" width="11.30" height="2.33" rx="1.16" fill="#000" fill-opacity="0.55"/>
<rect x="367.75" y="329.32" width="12.50" height="2.55" rx="1.28" fill="#000" fill-opacity="0.7"/>
<rect x="384.50" y="328.71" width="10.00" height="3.78" rx="1.89" fill="#000" fill-opacity="1.0"/>
<rect x="397.80" y="328.60" width="9.80" height="4.01" rx="2.00" fill="#000" fill-opacity="1.0"/>
<rect x="410.20" y="328.42" width="14.40" height="6.36" rx="3.18" fill="#000" fill-opacity="1.0"/>
<rect x="425.95" y="328.53" width="13.70" height="6.14" rx="3.07" fill="#000" fill-opacity="1.0"/>
<rect x="440.90" y="328.12" width="12.40" height="5.35" rx="2.68" fill="#000" fill-opacity="1.0"/>
<rect x="454.65" y="328.01" width="13.10" height="5.58" rx="2.79" fill="#000" fill-opacity="1.0"/>
</g>
<clipPath id="dd3"><rect x="349.8" y="324.4" width="118.60" height="12.00"/></clipPath>
<text x="336.90" y="332.20" font-size="5.6" textLength="11.4" lengthAdjust="spacingAndGlyphs">EZH2</text>
<text x="470.5" y="333.50" font-size="5.1">98kDa</text>
<rect x="349.8" y="338.0" width="118.60" height="13.70" fill="#e8e8e8"/>
<g filter="url(#bl)" clip-path="url(#dd4)">
<rect x="351.15" y="343.77" width="14.70" height="4.46" rx="2.23" fill="#000" fill-opacity="1.0"/>
<rect x="366.30" y="344.05" width="13.20" height="3.90" rx="1.95" fill="#000" fill-opacity="1.0"/>
<rect x="380.25" y="344.44" width="13.50" height="3.11" rx="1.56" fill="#000" fill-opacity="1.0"/>
<rect x="394.50" y="343.74" width="14.20" height="4.12" rx="2.06" fill="#000" fill-opacity="1.0"/>
<rect x="408.95" y="344.05" width="14.10" height="3.90" rx="1.95" fill="#000" fill-opacity="1.0"/>
<rect x="423.35" y="344.05" width="14.10" height="3.90" rx="1.95" fill="#000" fill-opacity="1.0"/>
<rect x="437.65" y="344.05" width="13.50" height="3.90" rx="1.95" fill="#000" fill-opacity="1.0"/>
<rect x="452.10" y="344.05" width="15.20" height="3.90" rx="1.95" fill="#000" fill-opacity="1.0"/>
</g>
<clipPath id="dd4"><rect x="349.8" y="338.0" width="118.60" height="13.70"/></clipPath>
<text x="325.80" y="347.60" font-size="5.6" textLength="22.5" lengthAdjust="spacingAndGlyphs">Histone 3</text>
<text x="470.5" y="347.60" font-size="5.1">17kDa</text>
<rect x="349.8" y="354.1" width="118.60" height="12.90" fill="#e2e2e2"/>
<g filter="url(#bl)" clip-path="url(#dd5)">
<rect x="351.50" y="360.00" width="17.00" height="3.00" rx="1.50" fill="#000" fill-opacity="1.0"/>
<rect x="369.50" y="360.02" width="16.60" height="2.55" rx="1.28" fill="#000" fill-opacity="1.0"/>
<rect x="388.00" y="359.82" width="10.00" height="2.55" rx="1.28" fill="#000" fill-opacity="1.0"/>
<rect x="398.00" y="359.67" width="10.80" height="2.66" rx="1.33" fill="#000" fill-opacity="1.0"/>
<rect x="411.35" y="359.44" width="13.70" height="2.33" rx="1.16" fill="#000" fill-opacity="1.0"/>
<rect x="427.50" y="359.38" width="13.80" height="2.44" rx="1.22" fill="#000" fill-opacity="1.0"/>
<rect x="443.05" y="358.56" width="11.90" height="3.67" rx="1.84" fill="#000" fill-opacity="1.0"/>
<rect x="455.55" y="358.79" width="11.90" height="3.22" rx="1.61" fill="#000" fill-opacity="1.0"/>
</g>
<clipPath id="dd5"><rect x="349.8" y="354.1" width="118.60" height="12.90"/></clipPath>
<text x="331.00" y="363.00" font-size="5.6" textLength="17.3" lengthAdjust="spacingAndGlyphs">GAPDH</text>
<text x="470.5" y="361.70" font-size="5.1">37kDa</text>
</svg>
</body></html>
